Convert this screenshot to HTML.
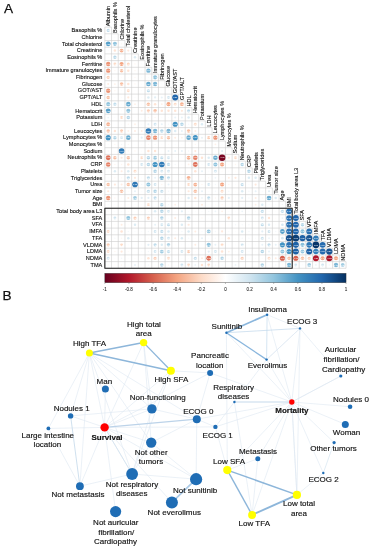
<!DOCTYPE html>
<html lang="en"><head><meta charset="utf-8"><title>Figure</title>
<style>html,body{margin:0;padding:0;background:#fff}svg{display:block}</style></head>
<body>
<svg width="373" height="550" viewBox="0 0 373 550" font-family="'Liberation Sans', sans-serif">
<defs><linearGradient id="cb" x1="0" y1="0" x2="1" y2="0">
<stop offset="0%" stop-color="#67001F"/>
<stop offset="10%" stop-color="#B2182B"/>
<stop offset="20%" stop-color="#D6604D"/>
<stop offset="30%" stop-color="#F4A582"/>
<stop offset="40%" stop-color="#FDDBC7"/>
<stop offset="50%" stop-color="#FFFFFF"/>
<stop offset="60%" stop-color="#D1E5F0"/>
<stop offset="70%" stop-color="#92C5DE"/>
<stop offset="80%" stop-color="#4393C3"/>
<stop offset="90%" stop-color="#2166AC"/>
<stop offset="100%" stop-color="#053061"/>
</linearGradient></defs>
<rect width="373" height="550" fill="#fff"/>
<text x="3.9" y="12.6" font-size="13.6" fill="#111" stroke="#111" stroke-width="0.25">A</text>
<text x="2.5" y="300.3" font-size="13.6" fill="#111" stroke="#111" stroke-width="0.25">B</text>
<path d="M104.85 27.10H111.55M104.85 33.80H118.25M104.85 40.50H124.95M104.85 47.20H131.65M104.85 53.90H138.35M104.85 60.60H145.05M104.85 67.30H151.75M104.85 74.00H158.45M104.85 80.70H165.15M104.85 87.40H171.85M104.85 94.10H178.55M104.85 100.80H185.25M104.85 107.50H191.95M104.85 114.20H198.65M104.85 120.90H205.35M104.85 127.60H212.05M104.85 134.30H218.75M104.85 141.00H225.45M104.85 147.70H232.15M104.85 154.40H238.85M104.85 161.10H245.55M104.85 167.80H252.25M104.85 174.50H258.95M104.85 181.20H265.65M104.85 187.90H272.35M104.85 194.60H279.05M104.85 201.30H285.75M104.85 208.00H292.45M104.85 214.70H299.15M104.85 221.40H305.85M104.85 228.10H312.55M104.85 234.80H319.25M104.85 241.50H325.95M104.85 248.20H332.65M104.85 254.90H339.35M104.85 261.60H346.05M104.85 268.30H346.05M104.85 27.10V268.30M111.55 27.10V268.30M118.25 33.80V268.30M124.95 40.50V268.30M131.65 47.20V268.30M138.35 53.90V268.30M145.05 60.60V268.30M151.75 67.30V268.30M158.45 74.00V268.30M165.15 80.70V268.30M171.85 87.40V268.30M178.55 94.10V268.30M185.25 100.80V268.30M191.95 107.50V268.30M198.65 114.20V268.30M205.35 120.90V268.30M212.05 127.60V268.30M218.75 134.30V268.30M225.45 141.00V268.30M232.15 147.70V268.30M238.85 154.40V268.30M245.55 161.10V268.30M252.25 167.80V268.30M258.95 174.50V268.30M265.65 181.20V268.30M272.35 187.90V268.30M279.05 194.60V268.30M285.75 201.30V268.30M292.45 208.00V268.30M299.15 214.70V268.30M305.85 221.40V268.30M312.55 228.10V268.30M319.25 234.80V268.30M325.95 241.50V268.30M332.65 248.20V268.30M339.35 254.90V268.30M346.05 261.60V268.30" stroke="#cccccc" stroke-width="0.60" fill="none"/>
<circle cx="108.20" cy="30.45" r="1.60" fill="#c1ddec"/>
<circle cx="108.20" cy="37.15" r="0.59" fill="#f8fbfd"/>
<circle cx="114.90" cy="37.15" r="0.59" fill="#f8fbfd"/>
<circle cx="108.20" cy="43.85" r="2.43" fill="#57a0ca"/>
<circle cx="114.90" cy="43.85" r="2.05" fill="#92c5de"/>
<circle cx="121.60" cy="43.85" r="0.71" fill="#fef6f1"/>
<circle cx="108.20" cy="50.55" r="0.59" fill="#fafcfe"/>
<circle cx="114.90" cy="50.55" r="1.23" fill="#fee4d5"/>
<circle cx="121.60" cy="50.55" r="1.91" fill="#f6b293"/>
<circle cx="128.30" cy="50.55" r="1.10" fill="#fee9dd"/>
<circle cx="108.20" cy="57.25" r="0.59" fill="#fafcfe"/>
<circle cx="114.90" cy="57.25" r="1.70" fill="#b8d8e9"/>
<circle cx="121.60" cy="57.25" r="0.59" fill="#fafcfe"/>
<circle cx="128.30" cy="57.25" r="0.59" fill="#fffbf9"/>
<circle cx="135.00" cy="57.25" r="1.23" fill="#dcecf4"/>
<circle cx="108.20" cy="63.95" r="2.18" fill="#ec9475"/>
<circle cx="114.90" cy="63.95" r="1.43" fill="#fddbc7"/>
<circle cx="121.60" cy="63.95" r="2.05" fill="#f4a582"/>
<circle cx="128.30" cy="63.95" r="1.50" fill="#fcd6c0"/>
<circle cx="135.00" cy="63.95" r="0.71" fill="#fef6f1"/>
<circle cx="141.70" cy="63.95" r="0.59" fill="#fafcfe"/>
<circle cx="108.20" cy="70.65" r="2.18" fill="#ec9475"/>
<circle cx="114.90" cy="70.65" r="0.71" fill="#fef6f1"/>
<circle cx="121.60" cy="70.65" r="1.76" fill="#f8c0a4"/>
<circle cx="128.30" cy="70.65" r="1.23" fill="#fee4d5"/>
<circle cx="135.00" cy="70.65" r="0.71" fill="#fef6f1"/>
<circle cx="141.70" cy="70.65" r="0.59" fill="#fafcfe"/>
<circle cx="148.40" cy="70.65" r="2.18" fill="#7eb8d7"/>
<circle cx="108.20" cy="77.35" r="1.60" fill="#fbceb6"/>
<circle cx="114.90" cy="77.35" r="0.59" fill="#fffaf7"/>
<circle cx="121.60" cy="77.35" r="0.59" fill="#fffbf9"/>
<circle cx="128.30" cy="77.35" r="0.59" fill="#fafcfe"/>
<circle cx="135.00" cy="77.35" r="0.71" fill="#fef6f1"/>
<circle cx="141.70" cy="77.35" r="0.59" fill="#fafcfe"/>
<circle cx="148.40" cy="77.35" r="0.59" fill="#f8fbfd"/>
<circle cx="155.10" cy="77.35" r="2.05" fill="#92c5de"/>
<circle cx="108.20" cy="84.05" r="1.00" fill="#feede3"/>
<circle cx="114.90" cy="84.05" r="0.90" fill="#fef1e9"/>
<circle cx="121.60" cy="84.05" r="1.76" fill="#f8c0a4"/>
<circle cx="128.30" cy="84.05" r="1.23" fill="#fee4d5"/>
<circle cx="135.00" cy="84.05" r="0.71" fill="#fef6f1"/>
<circle cx="141.70" cy="84.05" r="0.59" fill="#fafcfe"/>
<circle cx="148.40" cy="84.05" r="2.31" fill="#6aacd0"/>
<circle cx="155.10" cy="84.05" r="2.18" fill="#7eb8d7"/>
<circle cx="161.80" cy="84.05" r="0.59" fill="#fafcfe"/>
<circle cx="108.20" cy="90.75" r="2.18" fill="#ec9475"/>
<circle cx="114.90" cy="90.75" r="0.71" fill="#fef6f1"/>
<circle cx="121.60" cy="90.75" r="0.59" fill="#fafcfe"/>
<circle cx="128.30" cy="90.75" r="1.43" fill="#fddbc7"/>
<circle cx="135.00" cy="90.75" r="0.59" fill="#fafcfe"/>
<circle cx="141.70" cy="90.75" r="0.59" fill="#fafcfe"/>
<circle cx="148.40" cy="90.75" r="1.60" fill="#c1ddec"/>
<circle cx="155.10" cy="90.75" r="0.71" fill="#f4f8fb"/>
<circle cx="161.80" cy="90.75" r="0.59" fill="#fafcfe"/>
<circle cx="168.50" cy="90.75" r="0.59" fill="#fafcfe"/>
<circle cx="108.20" cy="97.45" r="1.76" fill="#f8c0a4"/>
<circle cx="114.90" cy="97.45" r="0.59" fill="#fafcfe"/>
<circle cx="121.60" cy="97.45" r="0.59" fill="#fafcfe"/>
<circle cx="128.30" cy="97.45" r="1.10" fill="#fee9dd"/>
<circle cx="135.00" cy="97.45" r="0.59" fill="#fafcfe"/>
<circle cx="141.70" cy="97.45" r="0.59" fill="#fffbf9"/>
<circle cx="148.40" cy="97.45" r="1.23" fill="#dcecf4"/>
<circle cx="155.10" cy="97.45" r="1.10" fill="#e3eff6"/>
<circle cx="161.80" cy="97.45" r="1.00" fill="#e8f2f8"/>
<circle cx="168.50" cy="97.45" r="1.43" fill="#d1e5f0"/>
<circle cx="175.20" cy="97.45" r="2.98" fill="#2166ac"/>
<circle cx="108.20" cy="104.15" r="2.05" fill="#92c5de"/>
<circle cx="114.90" cy="104.15" r="1.60" fill="#c1ddec"/>
<circle cx="121.60" cy="104.15" r="0.59" fill="#fafcfe"/>
<circle cx="128.30" cy="104.15" r="2.31" fill="#6aacd0"/>
<circle cx="135.00" cy="104.15" r="0.90" fill="#fef1e9"/>
<circle cx="141.70" cy="104.15" r="0.59" fill="#fafcfe"/>
<circle cx="148.40" cy="104.15" r="1.76" fill="#f8c0a4"/>
<circle cx="155.10" cy="104.15" r="1.23" fill="#fee4d5"/>
<circle cx="161.80" cy="104.15" r="0.90" fill="#fef1e9"/>
<circle cx="168.50" cy="104.15" r="2.05" fill="#f4a582"/>
<circle cx="175.20" cy="104.15" r="1.43" fill="#fddbc7"/>
<circle cx="181.90" cy="104.15" r="1.91" fill="#f6b293"/>
<circle cx="108.20" cy="110.85" r="2.43" fill="#57a0ca"/>
<circle cx="114.90" cy="110.85" r="0.71" fill="#f4f8fb"/>
<circle cx="121.60" cy="110.85" r="0.59" fill="#fafcfe"/>
<circle cx="128.30" cy="110.85" r="2.05" fill="#92c5de"/>
<circle cx="135.00" cy="110.85" r="0.59" fill="#fafcfe"/>
<circle cx="141.70" cy="110.85" r="1.00" fill="#feede3"/>
<circle cx="148.40" cy="110.85" r="1.60" fill="#fbceb6"/>
<circle cx="155.10" cy="110.85" r="1.76" fill="#f8c0a4"/>
<circle cx="161.80" cy="110.85" r="1.23" fill="#fee4d5"/>
<circle cx="168.50" cy="110.85" r="1.23" fill="#fee4d5"/>
<circle cx="175.20" cy="110.85" r="1.23" fill="#fee4d5"/>
<circle cx="181.90" cy="110.85" r="1.10" fill="#fee9dd"/>
<circle cx="188.60" cy="110.85" r="1.60" fill="#c1ddec"/>
<circle cx="108.20" cy="117.55" r="0.90" fill="#edf5f9"/>
<circle cx="114.90" cy="117.55" r="0.59" fill="#fafcfe"/>
<circle cx="121.60" cy="117.55" r="1.43" fill="#fddbc7"/>
<circle cx="128.30" cy="117.55" r="1.76" fill="#b2d5e7"/>
<circle cx="135.00" cy="117.55" r="0.59" fill="#fafcfe"/>
<circle cx="141.70" cy="117.55" r="0.59" fill="#fafcfe"/>
<circle cx="148.40" cy="117.55" r="0.71" fill="#fef6f1"/>
<circle cx="155.10" cy="117.55" r="0.71" fill="#fef6f1"/>
<circle cx="161.80" cy="117.55" r="0.59" fill="#fafcfe"/>
<circle cx="168.50" cy="117.55" r="0.59" fill="#fafcfe"/>
<circle cx="175.20" cy="117.55" r="1.00" fill="#e8f2f8"/>
<circle cx="181.90" cy="117.55" r="1.00" fill="#e8f2f8"/>
<circle cx="188.60" cy="117.55" r="1.23" fill="#dcecf4"/>
<circle cx="195.30" cy="117.55" r="0.59" fill="#f8fbfd"/>
<circle cx="108.20" cy="124.25" r="1.91" fill="#f6b293"/>
<circle cx="114.90" cy="124.25" r="0.59" fill="#fafcfe"/>
<circle cx="121.60" cy="124.25" r="0.59" fill="#fafcfe"/>
<circle cx="128.30" cy="124.25" r="0.71" fill="#fef6f1"/>
<circle cx="135.00" cy="124.25" r="0.90" fill="#fef1e9"/>
<circle cx="141.70" cy="124.25" r="0.59" fill="#fafcfe"/>
<circle cx="148.40" cy="124.25" r="1.00" fill="#e8f2f8"/>
<circle cx="155.10" cy="124.25" r="1.43" fill="#d1e5f0"/>
<circle cx="161.80" cy="124.25" r="1.00" fill="#e8f2f8"/>
<circle cx="168.50" cy="124.25" r="0.71" fill="#f4f8fb"/>
<circle cx="175.20" cy="124.25" r="2.55" fill="#4393c3"/>
<circle cx="181.90" cy="124.25" r="1.76" fill="#b2d5e7"/>
<circle cx="188.60" cy="124.25" r="0.71" fill="#f4f8fb"/>
<circle cx="195.30" cy="124.25" r="1.43" fill="#fddbc7"/>
<circle cx="202.00" cy="124.25" r="1.23" fill="#dcecf4"/>
<circle cx="108.20" cy="130.95" r="1.76" fill="#f8c0a4"/>
<circle cx="114.90" cy="130.95" r="1.23" fill="#fee4d5"/>
<circle cx="121.60" cy="130.95" r="1.60" fill="#fbceb6"/>
<circle cx="128.30" cy="130.95" r="0.90" fill="#fef1e9"/>
<circle cx="135.00" cy="130.95" r="1.00" fill="#feede3"/>
<circle cx="141.70" cy="130.95" r="1.00" fill="#feede3"/>
<circle cx="148.40" cy="130.95" r="2.77" fill="#327cb8"/>
<circle cx="155.10" cy="130.95" r="2.18" fill="#7eb8d7"/>
<circle cx="161.80" cy="130.95" r="1.76" fill="#b2d5e7"/>
<circle cx="168.50" cy="130.95" r="2.18" fill="#7eb8d7"/>
<circle cx="175.20" cy="130.95" r="1.23" fill="#dcecf4"/>
<circle cx="181.90" cy="130.95" r="1.00" fill="#e8f2f8"/>
<circle cx="188.60" cy="130.95" r="1.76" fill="#f8c0a4"/>
<circle cx="195.30" cy="130.95" r="1.00" fill="#feede3"/>
<circle cx="202.00" cy="130.95" r="0.59" fill="#fafcfe"/>
<circle cx="208.70" cy="130.95" r="0.71" fill="#f4f8fb"/>
<circle cx="108.20" cy="137.65" r="2.55" fill="#4393c3"/>
<circle cx="114.90" cy="137.65" r="1.76" fill="#b2d5e7"/>
<circle cx="121.60" cy="137.65" r="1.43" fill="#d1e5f0"/>
<circle cx="128.30" cy="137.65" r="2.31" fill="#6aacd0"/>
<circle cx="135.00" cy="137.65" r="0.59" fill="#fafcfe"/>
<circle cx="141.70" cy="137.65" r="1.10" fill="#e3eff6"/>
<circle cx="148.40" cy="137.65" r="2.31" fill="#e58268"/>
<circle cx="155.10" cy="137.65" r="2.18" fill="#ec9475"/>
<circle cx="161.80" cy="137.65" r="1.43" fill="#fddbc7"/>
<circle cx="168.50" cy="137.65" r="1.76" fill="#f8c0a4"/>
<circle cx="175.20" cy="137.65" r="1.00" fill="#feede3"/>
<circle cx="181.90" cy="137.65" r="0.90" fill="#fef1e9"/>
<circle cx="188.60" cy="137.65" r="2.31" fill="#6aacd0"/>
<circle cx="195.30" cy="137.65" r="2.55" fill="#4393c3"/>
<circle cx="202.00" cy="137.65" r="1.00" fill="#e8f2f8"/>
<circle cx="208.70" cy="137.65" r="1.60" fill="#fbceb6"/>
<circle cx="215.40" cy="137.65" r="2.18" fill="#ec9475"/>
<circle cx="108.20" cy="144.35" r="0.59" fill="#fafcfe"/>
<circle cx="114.90" cy="144.35" r="0.71" fill="#fef6f1"/>
<circle cx="121.60" cy="144.35" r="0.71" fill="#f4f8fb"/>
<circle cx="128.30" cy="144.35" r="0.71" fill="#fef6f1"/>
<circle cx="135.00" cy="144.35" r="0.59" fill="#fafcfe"/>
<circle cx="141.70" cy="144.35" r="0.59" fill="#fafcfe"/>
<circle cx="148.40" cy="144.35" r="0.71" fill="#fef6f1"/>
<circle cx="155.10" cy="144.35" r="0.71" fill="#f4f8fb"/>
<circle cx="161.80" cy="144.35" r="0.59" fill="#fafcfe"/>
<circle cx="168.50" cy="144.35" r="0.59" fill="#fffaf7"/>
<circle cx="175.20" cy="144.35" r="0.59" fill="#f8fbfd"/>
<circle cx="181.90" cy="144.35" r="0.59" fill="#fafcfe"/>
<circle cx="188.60" cy="144.35" r="0.59" fill="#fffaf7"/>
<circle cx="195.30" cy="144.35" r="0.71" fill="#fef6f1"/>
<circle cx="202.00" cy="144.35" r="0.59" fill="#fffaf7"/>
<circle cx="208.70" cy="144.35" r="0.59" fill="#fafcfe"/>
<circle cx="215.40" cy="144.35" r="0.90" fill="#fef1e9"/>
<circle cx="222.10" cy="144.35" r="0.59" fill="#fafcfe"/>
<circle cx="108.20" cy="151.05" r="0.71" fill="#f4f8fb"/>
<circle cx="114.90" cy="151.05" r="0.59" fill="#fafcfe"/>
<circle cx="121.60" cy="151.05" r="2.77" fill="#327cb8"/>
<circle cx="128.30" cy="151.05" r="0.71" fill="#fef6f1"/>
<circle cx="135.00" cy="151.05" r="0.71" fill="#fef6f1"/>
<circle cx="141.70" cy="151.05" r="0.59" fill="#fafcfe"/>
<circle cx="148.40" cy="151.05" r="1.23" fill="#fee4d5"/>
<circle cx="155.10" cy="151.05" r="1.23" fill="#fee4d5"/>
<circle cx="161.80" cy="151.05" r="0.59" fill="#fafcfe"/>
<circle cx="168.50" cy="151.05" r="1.00" fill="#e8f2f8"/>
<circle cx="175.20" cy="151.05" r="1.00" fill="#e8f2f8"/>
<circle cx="181.90" cy="151.05" r="1.00" fill="#e8f2f8"/>
<circle cx="188.60" cy="151.05" r="0.71" fill="#f4f8fb"/>
<circle cx="195.30" cy="151.05" r="1.10" fill="#fee9dd"/>
<circle cx="202.00" cy="151.05" r="0.71" fill="#f4f8fb"/>
<circle cx="208.70" cy="151.05" r="0.59" fill="#fffaf7"/>
<circle cx="215.40" cy="151.05" r="0.59" fill="#fffaf7"/>
<circle cx="222.10" cy="151.05" r="1.10" fill="#e3eff6"/>
<circle cx="228.80" cy="151.05" r="0.59" fill="#fafcfe"/>
<circle cx="108.20" cy="157.75" r="2.43" fill="#de715a"/>
<circle cx="114.90" cy="157.75" r="1.76" fill="#f8c0a4"/>
<circle cx="121.60" cy="157.75" r="1.10" fill="#fee9dd"/>
<circle cx="128.30" cy="157.75" r="1.76" fill="#f8c0a4"/>
<circle cx="135.00" cy="157.75" r="0.59" fill="#fafcfe"/>
<circle cx="141.70" cy="157.75" r="1.43" fill="#fddbc7"/>
<circle cx="148.40" cy="157.75" r="1.76" fill="#b2d5e7"/>
<circle cx="155.10" cy="157.75" r="1.91" fill="#a2cde2"/>
<circle cx="161.80" cy="157.75" r="1.60" fill="#c1ddec"/>
<circle cx="168.50" cy="157.75" r="1.43" fill="#d1e5f0"/>
<circle cx="175.20" cy="157.75" r="0.59" fill="#f8fbfd"/>
<circle cx="181.90" cy="157.75" r="0.59" fill="#fafcfe"/>
<circle cx="188.60" cy="157.75" r="1.91" fill="#f6b293"/>
<circle cx="195.30" cy="157.75" r="2.31" fill="#e58268"/>
<circle cx="202.00" cy="157.75" r="1.23" fill="#fee4d5"/>
<circle cx="208.70" cy="157.75" r="1.23" fill="#dcecf4"/>
<circle cx="215.40" cy="157.75" r="2.31" fill="#6aacd0"/>
<circle cx="222.10" cy="157.75" r="3.29" fill="#7a0622"/>
<circle cx="228.80" cy="157.75" r="1.10" fill="#fee9dd"/>
<circle cx="235.50" cy="157.75" r="1.43" fill="#fddbc7"/>
<circle cx="108.20" cy="164.45" r="2.31" fill="#e58268"/>
<circle cx="114.90" cy="164.45" r="0.71" fill="#fef6f1"/>
<circle cx="121.60" cy="164.45" r="0.71" fill="#fef6f1"/>
<circle cx="128.30" cy="164.45" r="1.23" fill="#fee4d5"/>
<circle cx="135.00" cy="164.45" r="0.59" fill="#fafcfe"/>
<circle cx="141.70" cy="164.45" r="1.43" fill="#d1e5f0"/>
<circle cx="148.40" cy="164.45" r="1.76" fill="#b2d5e7"/>
<circle cx="155.10" cy="164.45" r="2.55" fill="#4393c3"/>
<circle cx="161.80" cy="164.45" r="2.77" fill="#327cb8"/>
<circle cx="168.50" cy="164.45" r="1.60" fill="#c1ddec"/>
<circle cx="175.20" cy="164.45" r="0.71" fill="#f4f8fb"/>
<circle cx="181.90" cy="164.45" r="0.59" fill="#fafcfe"/>
<circle cx="188.60" cy="164.45" r="0.90" fill="#fef1e9"/>
<circle cx="195.30" cy="164.45" r="2.43" fill="#de715a"/>
<circle cx="202.00" cy="164.45" r="0.59" fill="#f8fbfd"/>
<circle cx="208.70" cy="164.45" r="1.43" fill="#d1e5f0"/>
<circle cx="215.40" cy="164.45" r="2.05" fill="#92c5de"/>
<circle cx="222.10" cy="164.45" r="2.05" fill="#f4a582"/>
<circle cx="228.80" cy="164.45" r="0.59" fill="#fffbf9"/>
<circle cx="235.50" cy="164.45" r="0.71" fill="#fef6f1"/>
<circle cx="242.20" cy="164.45" r="1.76" fill="#b2d5e7"/>
<circle cx="108.20" cy="171.15" r="0.59" fill="#fafcfe"/>
<circle cx="114.90" cy="171.15" r="1.23" fill="#dcecf4"/>
<circle cx="121.60" cy="171.15" r="1.00" fill="#feede3"/>
<circle cx="128.30" cy="171.15" r="1.23" fill="#dcecf4"/>
<circle cx="135.00" cy="171.15" r="1.43" fill="#fddbc7"/>
<circle cx="141.70" cy="171.15" r="0.59" fill="#fafcfe"/>
<circle cx="148.40" cy="171.15" r="0.71" fill="#f4f8fb"/>
<circle cx="155.10" cy="171.15" r="1.76" fill="#b2d5e7"/>
<circle cx="161.80" cy="171.15" r="1.43" fill="#d1e5f0"/>
<circle cx="168.50" cy="171.15" r="1.43" fill="#d1e5f0"/>
<circle cx="175.20" cy="171.15" r="0.59" fill="#fafcfe"/>
<circle cx="181.90" cy="171.15" r="0.59" fill="#fafcfe"/>
<circle cx="188.60" cy="171.15" r="0.59" fill="#fffbf9"/>
<circle cx="195.30" cy="171.15" r="1.23" fill="#fee4d5"/>
<circle cx="202.00" cy="171.15" r="1.00" fill="#e8f2f8"/>
<circle cx="208.70" cy="171.15" r="0.59" fill="#f8fbfd"/>
<circle cx="215.40" cy="171.15" r="1.43" fill="#d1e5f0"/>
<circle cx="222.10" cy="171.15" r="0.59" fill="#fffaf7"/>
<circle cx="228.80" cy="171.15" r="0.59" fill="#fafcfe"/>
<circle cx="235.50" cy="171.15" r="0.59" fill="#fffbf9"/>
<circle cx="242.20" cy="171.15" r="0.59" fill="#f8fbfd"/>
<circle cx="248.90" cy="171.15" r="1.76" fill="#b2d5e7"/>
<circle cx="108.20" cy="177.85" r="0.59" fill="#fafcfe"/>
<circle cx="114.90" cy="177.85" r="0.71" fill="#fef6f1"/>
<circle cx="121.60" cy="177.85" r="0.71" fill="#fef6f1"/>
<circle cx="128.30" cy="177.85" r="1.60" fill="#c1ddec"/>
<circle cx="135.00" cy="177.85" r="1.10" fill="#fee9dd"/>
<circle cx="141.70" cy="177.85" r="0.59" fill="#fafcfe"/>
<circle cx="148.40" cy="177.85" r="1.60" fill="#c1ddec"/>
<circle cx="155.10" cy="177.85" r="1.00" fill="#e8f2f8"/>
<circle cx="161.80" cy="177.85" r="2.18" fill="#7eb8d7"/>
<circle cx="168.50" cy="177.85" r="1.60" fill="#c1ddec"/>
<circle cx="175.20" cy="177.85" r="0.59" fill="#fafcfe"/>
<circle cx="181.90" cy="177.85" r="0.71" fill="#f4f8fb"/>
<circle cx="188.60" cy="177.85" r="1.91" fill="#f6b293"/>
<circle cx="195.30" cy="177.85" r="0.59" fill="#fffbf9"/>
<circle cx="202.00" cy="177.85" r="0.59" fill="#fafcfe"/>
<circle cx="208.70" cy="177.85" r="0.71" fill="#fef6f1"/>
<circle cx="215.40" cy="177.85" r="0.90" fill="#edf5f9"/>
<circle cx="222.10" cy="177.85" r="0.59" fill="#f8fbfd"/>
<circle cx="228.80" cy="177.85" r="1.00" fill="#feede3"/>
<circle cx="235.50" cy="177.85" r="1.10" fill="#fee9dd"/>
<circle cx="242.20" cy="177.85" r="0.59" fill="#f8fbfd"/>
<circle cx="248.90" cy="177.85" r="1.23" fill="#dcecf4"/>
<circle cx="255.60" cy="177.85" r="1.23" fill="#dcecf4"/>
<circle cx="108.20" cy="184.55" r="1.76" fill="#f8c0a4"/>
<circle cx="114.90" cy="184.55" r="1.10" fill="#fee9dd"/>
<circle cx="121.60" cy="184.55" r="1.00" fill="#feede3"/>
<circle cx="128.30" cy="184.55" r="1.76" fill="#f8c0a4"/>
<circle cx="135.00" cy="184.55" r="2.82" fill="#2f78b5"/>
<circle cx="141.70" cy="184.55" r="0.71" fill="#f4f8fb"/>
<circle cx="148.40" cy="184.55" r="2.05" fill="#92c5de"/>
<circle cx="155.10" cy="184.55" r="1.43" fill="#d1e5f0"/>
<circle cx="161.80" cy="184.55" r="0.71" fill="#fef6f1"/>
<circle cx="168.50" cy="184.55" r="1.00" fill="#e8f2f8"/>
<circle cx="175.20" cy="184.55" r="0.59" fill="#f8fbfd"/>
<circle cx="181.90" cy="184.55" r="0.59" fill="#fafcfe"/>
<circle cx="188.60" cy="184.55" r="1.43" fill="#fddbc7"/>
<circle cx="195.30" cy="184.55" r="1.91" fill="#f6b293"/>
<circle cx="202.00" cy="184.55" r="0.71" fill="#fef6f1"/>
<circle cx="208.70" cy="184.55" r="1.43" fill="#d1e5f0"/>
<circle cx="215.40" cy="184.55" r="0.71" fill="#f4f8fb"/>
<circle cx="222.10" cy="184.55" r="2.05" fill="#f4a582"/>
<circle cx="228.80" cy="184.55" r="0.71" fill="#fef6f1"/>
<circle cx="235.50" cy="184.55" r="0.59" fill="#fafcfe"/>
<circle cx="242.20" cy="184.55" r="1.60" fill="#c1ddec"/>
<circle cx="248.90" cy="184.55" r="0.59" fill="#f8fbfd"/>
<circle cx="255.60" cy="184.55" r="1.10" fill="#fee9dd"/>
<circle cx="262.30" cy="184.55" r="0.59" fill="#f8fbfd"/>
<circle cx="108.20" cy="191.25" r="1.10" fill="#fee9dd"/>
<circle cx="114.90" cy="191.25" r="0.59" fill="#fafcfe"/>
<circle cx="121.60" cy="191.25" r="1.76" fill="#f8c0a4"/>
<circle cx="128.30" cy="191.25" r="0.59" fill="#fffaf7"/>
<circle cx="135.00" cy="191.25" r="1.00" fill="#e8f2f8"/>
<circle cx="141.70" cy="191.25" r="0.59" fill="#fafcfe"/>
<circle cx="148.40" cy="191.25" r="1.60" fill="#c1ddec"/>
<circle cx="155.10" cy="191.25" r="1.76" fill="#b2d5e7"/>
<circle cx="161.80" cy="191.25" r="1.60" fill="#c1ddec"/>
<circle cx="168.50" cy="191.25" r="0.71" fill="#f4f8fb"/>
<circle cx="175.20" cy="191.25" r="0.59" fill="#fafcfe"/>
<circle cx="181.90" cy="191.25" r="0.59" fill="#fffbf9"/>
<circle cx="188.60" cy="191.25" r="1.10" fill="#fee9dd"/>
<circle cx="195.30" cy="191.25" r="1.76" fill="#f8c0a4"/>
<circle cx="202.00" cy="191.25" r="1.00" fill="#e8f2f8"/>
<circle cx="208.70" cy="191.25" r="0.59" fill="#fafcfe"/>
<circle cx="215.40" cy="191.25" r="0.71" fill="#f4f8fb"/>
<circle cx="222.10" cy="191.25" r="1.43" fill="#fddbc7"/>
<circle cx="228.80" cy="191.25" r="0.71" fill="#f4f8fb"/>
<circle cx="235.50" cy="191.25" r="0.59" fill="#fafcfe"/>
<circle cx="242.20" cy="191.25" r="1.23" fill="#dcecf4"/>
<circle cx="248.90" cy="191.25" r="0.71" fill="#f4f8fb"/>
<circle cx="255.60" cy="191.25" r="1.00" fill="#e8f2f8"/>
<circle cx="262.30" cy="191.25" r="0.59" fill="#f8fbfd"/>
<circle cx="269.00" cy="191.25" r="1.10" fill="#e3eff6"/>
<circle cx="108.20" cy="197.95" r="2.18" fill="#ec9475"/>
<circle cx="114.90" cy="197.95" r="0.71" fill="#fef6f1"/>
<circle cx="121.60" cy="197.95" r="0.59" fill="#fffaf7"/>
<circle cx="128.30" cy="197.95" r="1.00" fill="#feede3"/>
<circle cx="135.00" cy="197.95" r="1.91" fill="#a2cde2"/>
<circle cx="141.70" cy="197.95" r="1.10" fill="#e3eff6"/>
<circle cx="148.40" cy="197.95" r="1.10" fill="#e3eff6"/>
<circle cx="155.10" cy="197.95" r="1.60" fill="#c1ddec"/>
<circle cx="161.80" cy="197.95" r="0.71" fill="#f4f8fb"/>
<circle cx="168.50" cy="197.95" r="0.71" fill="#f4f8fb"/>
<circle cx="175.20" cy="197.95" r="0.59" fill="#fffaf7"/>
<circle cx="181.90" cy="197.95" r="0.71" fill="#fef6f1"/>
<circle cx="188.60" cy="197.95" r="1.23" fill="#dcecf4"/>
<circle cx="195.30" cy="197.95" r="1.23" fill="#fee4d5"/>
<circle cx="202.00" cy="197.95" r="0.90" fill="#edf5f9"/>
<circle cx="208.70" cy="197.95" r="1.60" fill="#c1ddec"/>
<circle cx="215.40" cy="197.95" r="0.71" fill="#fef6f1"/>
<circle cx="222.10" cy="197.95" r="1.60" fill="#fbceb6"/>
<circle cx="228.80" cy="197.95" r="1.10" fill="#e3eff6"/>
<circle cx="235.50" cy="197.95" r="0.59" fill="#fafcfe"/>
<circle cx="242.20" cy="197.95" r="1.10" fill="#e3eff6"/>
<circle cx="248.90" cy="197.95" r="0.71" fill="#f4f8fb"/>
<circle cx="255.60" cy="197.95" r="1.00" fill="#feede3"/>
<circle cx="262.30" cy="197.95" r="0.71" fill="#fef6f1"/>
<circle cx="269.00" cy="197.95" r="2.31" fill="#6aacd0"/>
<circle cx="275.70" cy="197.95" r="1.23" fill="#dcecf4"/>
<circle cx="108.20" cy="204.65" r="0.59" fill="#f8fbfd"/>
<circle cx="114.90" cy="204.65" r="0.59" fill="#fafcfe"/>
<circle cx="121.60" cy="204.65" r="0.59" fill="#fffbf9"/>
<circle cx="128.30" cy="204.65" r="0.59" fill="#fffaf7"/>
<circle cx="135.00" cy="204.65" r="0.59" fill="#f8fbfd"/>
<circle cx="141.70" cy="204.65" r="0.59" fill="#fafcfe"/>
<circle cx="148.40" cy="204.65" r="1.43" fill="#fddbc7"/>
<circle cx="155.10" cy="204.65" r="0.59" fill="#fafcfe"/>
<circle cx="161.80" cy="204.65" r="1.76" fill="#b2d5e7"/>
<circle cx="168.50" cy="204.65" r="0.71" fill="#f4f8fb"/>
<circle cx="175.20" cy="204.65" r="0.90" fill="#fef1e9"/>
<circle cx="181.90" cy="204.65" r="0.59" fill="#fafcfe"/>
<circle cx="188.60" cy="204.65" r="0.59" fill="#f8fbfd"/>
<circle cx="195.30" cy="204.65" r="0.59" fill="#fffaf7"/>
<circle cx="202.00" cy="204.65" r="1.00" fill="#feede3"/>
<circle cx="208.70" cy="204.65" r="0.59" fill="#fafcfe"/>
<circle cx="215.40" cy="204.65" r="0.59" fill="#fffaf7"/>
<circle cx="222.10" cy="204.65" r="0.71" fill="#fef6f1"/>
<circle cx="228.80" cy="204.65" r="0.59" fill="#fafcfe"/>
<circle cx="235.50" cy="204.65" r="0.59" fill="#fffbf9"/>
<circle cx="242.20" cy="204.65" r="0.59" fill="#f8fbfd"/>
<circle cx="248.90" cy="204.65" r="0.59" fill="#fafcfe"/>
<circle cx="255.60" cy="204.65" r="0.90" fill="#fef1e9"/>
<circle cx="262.30" cy="204.65" r="1.23" fill="#dcecf4"/>
<circle cx="269.00" cy="204.65" r="0.59" fill="#f8fbfd"/>
<circle cx="275.70" cy="204.65" r="0.59" fill="#f8fbfd"/>
<circle cx="282.40" cy="204.65" r="0.71" fill="#f4f8fb"/>
<circle cx="108.20" cy="211.35" r="0.59" fill="#fffaf7"/>
<circle cx="114.90" cy="211.35" r="0.59" fill="#f8fbfd"/>
<circle cx="121.60" cy="211.35" r="0.59" fill="#fafcfe"/>
<circle cx="128.30" cy="211.35" r="0.59" fill="#fffaf7"/>
<circle cx="135.00" cy="211.35" r="0.59" fill="#fafcfe"/>
<circle cx="141.70" cy="211.35" r="0.59" fill="#fffbf9"/>
<circle cx="148.40" cy="211.35" r="0.59" fill="#f8fbfd"/>
<circle cx="155.10" cy="211.35" r="1.23" fill="#dcecf4"/>
<circle cx="161.80" cy="211.35" r="1.76" fill="#b2d5e7"/>
<circle cx="168.50" cy="211.35" r="1.43" fill="#d1e5f0"/>
<circle cx="175.20" cy="211.35" r="0.59" fill="#fafcfe"/>
<circle cx="181.90" cy="211.35" r="1.10" fill="#e3eff6"/>
<circle cx="188.60" cy="211.35" r="0.59" fill="#fafcfe"/>
<circle cx="195.30" cy="211.35" r="0.59" fill="#f8fbfd"/>
<circle cx="202.00" cy="211.35" r="0.59" fill="#f8fbfd"/>
<circle cx="208.70" cy="211.35" r="0.71" fill="#f4f8fb"/>
<circle cx="215.40" cy="211.35" r="0.90" fill="#edf5f9"/>
<circle cx="222.10" cy="211.35" r="0.90" fill="#fef1e9"/>
<circle cx="228.80" cy="211.35" r="0.59" fill="#fafcfe"/>
<circle cx="235.50" cy="211.35" r="0.59" fill="#fafcfe"/>
<circle cx="242.20" cy="211.35" r="0.90" fill="#edf5f9"/>
<circle cx="248.90" cy="211.35" r="0.59" fill="#f8fbfd"/>
<circle cx="255.60" cy="211.35" r="0.59" fill="#f8fbfd"/>
<circle cx="262.30" cy="211.35" r="1.60" fill="#c1ddec"/>
<circle cx="269.00" cy="211.35" r="0.59" fill="#f8fbfd"/>
<circle cx="275.70" cy="211.35" r="0.59" fill="#fafcfe"/>
<circle cx="282.40" cy="211.35" r="1.60" fill="#c1ddec"/>
<circle cx="289.10" cy="211.35" r="2.88" fill="#2a71b2"/>
<circle cx="108.20" cy="218.05" r="0.71" fill="#f4f8fb"/>
<circle cx="114.90" cy="218.05" r="1.43" fill="#d1e5f0"/>
<circle cx="121.60" cy="218.05" r="0.59" fill="#fffaf7"/>
<circle cx="128.30" cy="218.05" r="2.05" fill="#92c5de"/>
<circle cx="135.00" cy="218.05" r="1.60" fill="#fbceb6"/>
<circle cx="141.70" cy="218.05" r="0.59" fill="#f8fbfd"/>
<circle cx="148.40" cy="218.05" r="1.60" fill="#fbceb6"/>
<circle cx="155.10" cy="218.05" r="0.71" fill="#fef6f1"/>
<circle cx="161.80" cy="218.05" r="1.76" fill="#b2d5e7"/>
<circle cx="168.50" cy="218.05" r="0.59" fill="#f8fbfd"/>
<circle cx="175.20" cy="218.05" r="1.00" fill="#feede3"/>
<circle cx="181.90" cy="218.05" r="0.59" fill="#fafcfe"/>
<circle cx="188.60" cy="218.05" r="1.76" fill="#b2d5e7"/>
<circle cx="195.30" cy="218.05" r="0.59" fill="#fafcfe"/>
<circle cx="202.00" cy="218.05" r="0.71" fill="#fef6f1"/>
<circle cx="208.70" cy="218.05" r="0.59" fill="#fafcfe"/>
<circle cx="215.40" cy="218.05" r="0.59" fill="#fafcfe"/>
<circle cx="222.10" cy="218.05" r="0.59" fill="#fffbf9"/>
<circle cx="228.80" cy="218.05" r="1.43" fill="#fddbc7"/>
<circle cx="235.50" cy="218.05" r="0.59" fill="#f8fbfd"/>
<circle cx="242.20" cy="218.05" r="0.59" fill="#fafcfe"/>
<circle cx="248.90" cy="218.05" r="0.59" fill="#fafcfe"/>
<circle cx="255.60" cy="218.05" r="0.59" fill="#f8fbfd"/>
<circle cx="262.30" cy="218.05" r="1.43" fill="#d1e5f0"/>
<circle cx="269.00" cy="218.05" r="1.23" fill="#fee4d5"/>
<circle cx="275.70" cy="218.05" r="0.59" fill="#fffaf7"/>
<circle cx="282.40" cy="218.05" r="0.90" fill="#edf5f9"/>
<circle cx="289.10" cy="218.05" r="2.88" fill="#2a71b2"/>
<circle cx="295.80" cy="218.05" r="2.98" fill="#2166ac"/>
<circle cx="108.20" cy="224.75" r="0.71" fill="#fef6f1"/>
<circle cx="114.90" cy="224.75" r="0.59" fill="#fffaf7"/>
<circle cx="121.60" cy="224.75" r="1.00" fill="#feede3"/>
<circle cx="128.30" cy="224.75" r="0.59" fill="#fffaf7"/>
<circle cx="135.00" cy="224.75" r="1.23" fill="#dcecf4"/>
<circle cx="141.70" cy="224.75" r="0.59" fill="#fafcfe"/>
<circle cx="148.40" cy="224.75" r="0.59" fill="#fafcfe"/>
<circle cx="155.10" cy="224.75" r="1.00" fill="#e8f2f8"/>
<circle cx="161.80" cy="224.75" r="1.43" fill="#d1e5f0"/>
<circle cx="168.50" cy="224.75" r="1.60" fill="#c1ddec"/>
<circle cx="175.20" cy="224.75" r="0.59" fill="#fffaf7"/>
<circle cx="181.90" cy="224.75" r="1.23" fill="#dcecf4"/>
<circle cx="188.60" cy="224.75" r="1.10" fill="#fee9dd"/>
<circle cx="195.30" cy="224.75" r="0.59" fill="#fafcfe"/>
<circle cx="202.00" cy="224.75" r="0.59" fill="#f8fbfd"/>
<circle cx="208.70" cy="224.75" r="0.59" fill="#f8fbfd"/>
<circle cx="215.40" cy="224.75" r="0.59" fill="#f8fbfd"/>
<circle cx="222.10" cy="224.75" r="0.59" fill="#fffaf7"/>
<circle cx="228.80" cy="224.75" r="0.59" fill="#fffaf7"/>
<circle cx="235.50" cy="224.75" r="0.71" fill="#f4f8fb"/>
<circle cx="242.20" cy="224.75" r="0.71" fill="#f4f8fb"/>
<circle cx="248.90" cy="224.75" r="0.71" fill="#f4f8fb"/>
<circle cx="255.60" cy="224.75" r="0.59" fill="#fafcfe"/>
<circle cx="262.30" cy="224.75" r="1.60" fill="#c1ddec"/>
<circle cx="269.00" cy="224.75" r="1.23" fill="#dcecf4"/>
<circle cx="275.70" cy="224.75" r="0.59" fill="#fafcfe"/>
<circle cx="282.40" cy="224.75" r="1.35" fill="#d6e8f2"/>
<circle cx="289.10" cy="224.75" r="2.88" fill="#2a71b2"/>
<circle cx="295.80" cy="224.75" r="2.98" fill="#2166ac"/>
<circle cx="302.50" cy="224.75" r="1.76" fill="#b2d5e7"/>
<circle cx="108.20" cy="231.45" r="1.43" fill="#fddbc7"/>
<circle cx="114.90" cy="231.45" r="0.59" fill="#f8fbfd"/>
<circle cx="121.60" cy="231.45" r="1.23" fill="#fee4d5"/>
<circle cx="128.30" cy="231.45" r="0.71" fill="#f4f8fb"/>
<circle cx="135.00" cy="231.45" r="0.59" fill="#f8fbfd"/>
<circle cx="141.70" cy="231.45" r="0.59" fill="#fafcfe"/>
<circle cx="148.40" cy="231.45" r="0.71" fill="#f4f8fb"/>
<circle cx="155.10" cy="231.45" r="1.43" fill="#d1e5f0"/>
<circle cx="161.80" cy="231.45" r="1.60" fill="#c1ddec"/>
<circle cx="168.50" cy="231.45" r="1.23" fill="#dcecf4"/>
<circle cx="175.20" cy="231.45" r="0.59" fill="#f8fbfd"/>
<circle cx="181.90" cy="231.45" r="0.71" fill="#f4f8fb"/>
<circle cx="188.60" cy="231.45" r="1.23" fill="#dcecf4"/>
<circle cx="195.30" cy="231.45" r="1.00" fill="#feede3"/>
<circle cx="202.00" cy="231.45" r="0.59" fill="#f8fbfd"/>
<circle cx="208.70" cy="231.45" r="1.91" fill="#a2cde2"/>
<circle cx="215.40" cy="231.45" r="0.71" fill="#f4f8fb"/>
<circle cx="222.10" cy="231.45" r="1.10" fill="#fee9dd"/>
<circle cx="228.80" cy="231.45" r="0.59" fill="#f8fbfd"/>
<circle cx="235.50" cy="231.45" r="0.59" fill="#fafcfe"/>
<circle cx="242.20" cy="231.45" r="1.23" fill="#dcecf4"/>
<circle cx="248.90" cy="231.45" r="0.71" fill="#f4f8fb"/>
<circle cx="255.60" cy="231.45" r="0.59" fill="#fafcfe"/>
<circle cx="262.30" cy="231.45" r="1.10" fill="#e3eff6"/>
<circle cx="269.00" cy="231.45" r="1.50" fill="#cbe2ee"/>
<circle cx="275.70" cy="231.45" r="0.71" fill="#f4f8fb"/>
<circle cx="282.40" cy="231.45" r="2.43" fill="#57a0ca"/>
<circle cx="289.10" cy="231.45" r="2.88" fill="#2a71b2"/>
<circle cx="295.80" cy="231.45" r="2.98" fill="#2166ac"/>
<circle cx="302.50" cy="231.45" r="2.10" fill="#8ac0db"/>
<circle cx="309.20" cy="231.45" r="2.88" fill="#2a71b2"/>
<circle cx="108.20" cy="238.15" r="0.59" fill="#fffaf7"/>
<circle cx="114.90" cy="238.15" r="0.71" fill="#f4f8fb"/>
<circle cx="121.60" cy="238.15" r="0.71" fill="#fef6f1"/>
<circle cx="128.30" cy="238.15" r="1.23" fill="#dcecf4"/>
<circle cx="135.00" cy="238.15" r="0.59" fill="#f8fbfd"/>
<circle cx="141.70" cy="238.15" r="0.59" fill="#fafcfe"/>
<circle cx="148.40" cy="238.15" r="0.59" fill="#fffaf7"/>
<circle cx="155.10" cy="238.15" r="0.71" fill="#f4f8fb"/>
<circle cx="161.80" cy="238.15" r="1.76" fill="#b2d5e7"/>
<circle cx="168.50" cy="238.15" r="1.43" fill="#d1e5f0"/>
<circle cx="175.20" cy="238.15" r="1.00" fill="#feede3"/>
<circle cx="181.90" cy="238.15" r="1.23" fill="#dcecf4"/>
<circle cx="188.60" cy="238.15" r="0.71" fill="#f4f8fb"/>
<circle cx="195.30" cy="238.15" r="0.59" fill="#fafcfe"/>
<circle cx="202.00" cy="238.15" r="1.00" fill="#e8f2f8"/>
<circle cx="208.70" cy="238.15" r="0.59" fill="#f8fbfd"/>
<circle cx="215.40" cy="238.15" r="0.71" fill="#f4f8fb"/>
<circle cx="222.10" cy="238.15" r="0.59" fill="#fffaf7"/>
<circle cx="228.80" cy="238.15" r="1.23" fill="#fee4d5"/>
<circle cx="235.50" cy="238.15" r="0.59" fill="#fafcfe"/>
<circle cx="242.20" cy="238.15" r="0.71" fill="#f4f8fb"/>
<circle cx="248.90" cy="238.15" r="0.71" fill="#f4f8fb"/>
<circle cx="255.60" cy="238.15" r="0.59" fill="#f8fbfd"/>
<circle cx="262.30" cy="238.15" r="1.50" fill="#cbe2ee"/>
<circle cx="269.00" cy="238.15" r="0.90" fill="#edf5f9"/>
<circle cx="275.70" cy="238.15" r="0.59" fill="#f8fbfd"/>
<circle cx="282.40" cy="238.15" r="1.35" fill="#d6e8f2"/>
<circle cx="289.10" cy="238.15" r="3.15" fill="#16508e"/>
<circle cx="295.80" cy="238.15" r="3.29" fill="#0c3e74"/>
<circle cx="302.50" cy="238.15" r="3.03" fill="#1e61a5"/>
<circle cx="309.20" cy="238.15" r="3.13" fill="#175392"/>
<circle cx="315.90" cy="238.15" r="2.77" fill="#327cb8"/>
<circle cx="108.20" cy="244.85" r="1.60" fill="#fbceb6"/>
<circle cx="114.90" cy="244.85" r="0.59" fill="#fffaf7"/>
<circle cx="121.60" cy="244.85" r="1.43" fill="#fddbc7"/>
<circle cx="128.30" cy="244.85" r="0.59" fill="#f8fbfd"/>
<circle cx="135.00" cy="244.85" r="0.59" fill="#f8fbfd"/>
<circle cx="141.70" cy="244.85" r="0.59" fill="#fafcfe"/>
<circle cx="148.40" cy="244.85" r="1.10" fill="#e3eff6"/>
<circle cx="155.10" cy="244.85" r="1.60" fill="#c1ddec"/>
<circle cx="161.80" cy="244.85" r="1.23" fill="#dcecf4"/>
<circle cx="168.50" cy="244.85" r="1.76" fill="#b2d5e7"/>
<circle cx="175.20" cy="244.85" r="0.59" fill="#fffaf7"/>
<circle cx="181.90" cy="244.85" r="0.59" fill="#f8fbfd"/>
<circle cx="188.60" cy="244.85" r="0.59" fill="#fafcfe"/>
<circle cx="195.30" cy="244.85" r="1.00" fill="#feede3"/>
<circle cx="202.00" cy="244.85" r="0.59" fill="#f8fbfd"/>
<circle cx="208.70" cy="244.85" r="2.05" fill="#92c5de"/>
<circle cx="215.40" cy="244.85" r="1.00" fill="#e8f2f8"/>
<circle cx="222.10" cy="244.85" r="1.43" fill="#fddbc7"/>
<circle cx="228.80" cy="244.85" r="0.59" fill="#fafcfe"/>
<circle cx="235.50" cy="244.85" r="0.59" fill="#fafcfe"/>
<circle cx="242.20" cy="244.85" r="1.43" fill="#d1e5f0"/>
<circle cx="248.90" cy="244.85" r="0.59" fill="#f8fbfd"/>
<circle cx="255.60" cy="244.85" r="0.59" fill="#fafcfe"/>
<circle cx="262.30" cy="244.85" r="1.00" fill="#e8f2f8"/>
<circle cx="269.00" cy="244.85" r="1.60" fill="#c1ddec"/>
<circle cx="275.70" cy="244.85" r="1.00" fill="#e8f2f8"/>
<circle cx="282.40" cy="244.85" r="2.55" fill="#4393c3"/>
<circle cx="289.10" cy="244.85" r="2.88" fill="#2a71b2"/>
<circle cx="295.80" cy="244.85" r="3.03" fill="#1e61a5"/>
<circle cx="302.50" cy="244.85" r="2.10" fill="#8ac0db"/>
<circle cx="309.20" cy="244.85" r="2.82" fill="#2f78b5"/>
<circle cx="315.90" cy="244.85" r="3.34" fill="#083568"/>
<circle cx="322.60" cy="244.85" r="2.94" fill="#246aae"/>
<circle cx="108.20" cy="251.55" r="1.43" fill="#fddbc7"/>
<circle cx="114.90" cy="251.55" r="0.71" fill="#fef6f1"/>
<circle cx="121.60" cy="251.55" r="1.10" fill="#fee9dd"/>
<circle cx="128.30" cy="251.55" r="0.59" fill="#fffaf7"/>
<circle cx="135.00" cy="251.55" r="0.59" fill="#fafcfe"/>
<circle cx="141.70" cy="251.55" r="0.59" fill="#fafcfe"/>
<circle cx="148.40" cy="251.55" r="0.71" fill="#f4f8fb"/>
<circle cx="155.10" cy="251.55" r="1.43" fill="#d1e5f0"/>
<circle cx="161.80" cy="251.55" r="1.91" fill="#a2cde2"/>
<circle cx="168.50" cy="251.55" r="1.60" fill="#c1ddec"/>
<circle cx="175.20" cy="251.55" r="0.59" fill="#fafcfe"/>
<circle cx="181.90" cy="251.55" r="1.43" fill="#d1e5f0"/>
<circle cx="188.60" cy="251.55" r="1.60" fill="#fbceb6"/>
<circle cx="195.30" cy="251.55" r="0.59" fill="#fffaf7"/>
<circle cx="202.00" cy="251.55" r="0.59" fill="#fafcfe"/>
<circle cx="208.70" cy="251.55" r="1.10" fill="#e3eff6"/>
<circle cx="215.40" cy="251.55" r="1.43" fill="#d1e5f0"/>
<circle cx="222.10" cy="251.55" r="1.23" fill="#fee4d5"/>
<circle cx="228.80" cy="251.55" r="0.90" fill="#fef1e9"/>
<circle cx="235.50" cy="251.55" r="0.59" fill="#fafcfe"/>
<circle cx="242.20" cy="251.55" r="1.43" fill="#d1e5f0"/>
<circle cx="248.90" cy="251.55" r="0.59" fill="#f8fbfd"/>
<circle cx="255.60" cy="251.55" r="0.59" fill="#fafcfe"/>
<circle cx="262.30" cy="251.55" r="1.76" fill="#b2d5e7"/>
<circle cx="269.00" cy="251.55" r="1.00" fill="#e8f2f8"/>
<circle cx="275.70" cy="251.55" r="0.71" fill="#f4f8fb"/>
<circle cx="282.40" cy="251.55" r="2.05" fill="#92c5de"/>
<circle cx="289.10" cy="251.55" r="2.55" fill="#4393c3"/>
<circle cx="295.80" cy="251.55" r="3.03" fill="#1e61a5"/>
<circle cx="302.50" cy="251.55" r="2.00" fill="#98c8e0"/>
<circle cx="309.20" cy="251.55" r="3.03" fill="#1e61a5"/>
<circle cx="315.90" cy="251.55" r="2.73" fill="#3581ba"/>
<circle cx="322.60" cy="251.55" r="2.94" fill="#246aae"/>
<circle cx="329.30" cy="251.55" r="3.13" fill="#175392"/>
<circle cx="108.20" cy="258.25" r="1.43" fill="#d1e5f0"/>
<circle cx="114.90" cy="258.25" r="0.59" fill="#fafcfe"/>
<circle cx="121.60" cy="258.25" r="0.71" fill="#f4f8fb"/>
<circle cx="128.30" cy="258.25" r="0.59" fill="#fafcfe"/>
<circle cx="135.00" cy="258.25" r="0.59" fill="#fffaf7"/>
<circle cx="141.70" cy="258.25" r="0.59" fill="#fffaf7"/>
<circle cx="148.40" cy="258.25" r="1.23" fill="#fee4d5"/>
<circle cx="155.10" cy="258.25" r="1.60" fill="#fbceb6"/>
<circle cx="161.80" cy="258.25" r="0.59" fill="#fafcfe"/>
<circle cx="168.50" cy="258.25" r="1.43" fill="#fddbc7"/>
<circle cx="175.20" cy="258.25" r="0.59" fill="#fafcfe"/>
<circle cx="181.90" cy="258.25" r="0.59" fill="#fafcfe"/>
<circle cx="188.60" cy="258.25" r="0.59" fill="#fafcfe"/>
<circle cx="195.30" cy="258.25" r="1.60" fill="#c1ddec"/>
<circle cx="202.00" cy="258.25" r="1.00" fill="#feede3"/>
<circle cx="208.70" cy="258.25" r="2.43" fill="#de715a"/>
<circle cx="215.40" cy="258.25" r="0.71" fill="#fef6f1"/>
<circle cx="222.10" cy="258.25" r="1.76" fill="#b2d5e7"/>
<circle cx="228.80" cy="258.25" r="0.59" fill="#fafcfe"/>
<circle cx="235.50" cy="258.25" r="0.59" fill="#f8fbfd"/>
<circle cx="242.20" cy="258.25" r="1.60" fill="#fbceb6"/>
<circle cx="248.90" cy="258.25" r="0.59" fill="#fafcfe"/>
<circle cx="255.60" cy="258.25" r="0.59" fill="#fafcfe"/>
<circle cx="262.30" cy="258.25" r="0.59" fill="#fffaf7"/>
<circle cx="269.00" cy="258.25" r="1.43" fill="#fddbc7"/>
<circle cx="275.70" cy="258.25" r="1.00" fill="#feede3"/>
<circle cx="282.40" cy="258.25" r="2.55" fill="#d6604d"/>
<circle cx="289.10" cy="258.25" r="1.76" fill="#f8c0a4"/>
<circle cx="295.80" cy="258.25" r="2.55" fill="#d6604d"/>
<circle cx="302.50" cy="258.25" r="1.76" fill="#f8c0a4"/>
<circle cx="309.20" cy="258.25" r="1.60" fill="#fbceb6"/>
<circle cx="315.90" cy="258.25" r="2.98" fill="#b2182b"/>
<circle cx="322.60" cy="258.25" r="2.05" fill="#f4a582"/>
<circle cx="329.30" cy="258.25" r="3.03" fill="#aa162a"/>
<circle cx="336.00" cy="258.25" r="2.05" fill="#f4a582"/>
<circle cx="108.20" cy="264.95" r="0.59" fill="#fffaf7"/>
<circle cx="114.90" cy="264.95" r="0.59" fill="#fffaf7"/>
<circle cx="121.60" cy="264.95" r="0.71" fill="#fef6f1"/>
<circle cx="128.30" cy="264.95" r="0.59" fill="#f8fbfd"/>
<circle cx="135.00" cy="264.95" r="1.00" fill="#e8f2f8"/>
<circle cx="141.70" cy="264.95" r="0.59" fill="#fafcfe"/>
<circle cx="148.40" cy="264.95" r="0.71" fill="#f4f8fb"/>
<circle cx="155.10" cy="264.95" r="0.59" fill="#f8fbfd"/>
<circle cx="161.80" cy="264.95" r="1.76" fill="#b2d5e7"/>
<circle cx="168.50" cy="264.95" r="0.71" fill="#fef6f1"/>
<circle cx="175.20" cy="264.95" r="0.59" fill="#fafcfe"/>
<circle cx="181.90" cy="264.95" r="1.43" fill="#d1e5f0"/>
<circle cx="188.60" cy="264.95" r="1.43" fill="#fddbc7"/>
<circle cx="195.30" cy="264.95" r="0.90" fill="#edf5f9"/>
<circle cx="202.00" cy="264.95" r="1.23" fill="#fee4d5"/>
<circle cx="208.70" cy="264.95" r="1.43" fill="#fddbc7"/>
<circle cx="215.40" cy="264.95" r="0.71" fill="#f4f8fb"/>
<circle cx="222.10" cy="264.95" r="0.71" fill="#f4f8fb"/>
<circle cx="228.80" cy="264.95" r="0.59" fill="#fafcfe"/>
<circle cx="235.50" cy="264.95" r="0.90" fill="#edf5f9"/>
<circle cx="242.20" cy="264.95" r="0.59" fill="#f8fbfd"/>
<circle cx="248.90" cy="264.95" r="0.59" fill="#fafcfe"/>
<circle cx="255.60" cy="264.95" r="0.59" fill="#fafcfe"/>
<circle cx="262.30" cy="264.95" r="1.76" fill="#b2d5e7"/>
<circle cx="269.00" cy="264.95" r="0.59" fill="#f8fbfd"/>
<circle cx="275.70" cy="264.95" r="0.71" fill="#f4f8fb"/>
<circle cx="282.40" cy="264.95" r="0.59" fill="#fffaf7"/>
<circle cx="289.10" cy="264.95" r="2.18" fill="#7eb8d7"/>
<circle cx="295.80" cy="264.95" r="1.43" fill="#d1e5f0"/>
<circle cx="302.50" cy="264.95" r="0.59" fill="#fafcfe"/>
<circle cx="309.20" cy="264.95" r="1.91" fill="#a2cde2"/>
<circle cx="315.90" cy="264.95" r="0.90" fill="#edf5f9"/>
<circle cx="322.60" cy="264.95" r="1.43" fill="#d1e5f0"/>
<circle cx="329.30" cy="264.95" r="0.71" fill="#f4f8fb"/>
<circle cx="336.00" cy="264.95" r="2.18" fill="#7eb8d7"/>
<circle cx="342.70" cy="264.95" r="1.91" fill="#a2cde2"/>
<g font-size="2.1" fill="#fff" text-anchor="middle">
<text x="108.20" y="31.15">0.25</text>
<text x="108.20" y="44.55">0.55</text>
<text x="114.90" y="44.55">0.40</text>
<text x="121.60" y="51.25">-0.35</text>
<text x="114.90" y="57.95">0.28</text>
<text x="108.20" y="64.65">-0.45</text>
<text x="114.90" y="64.65">-0.20</text>
<text x="121.60" y="64.65">-0.40</text>
<text x="128.30" y="64.65">-0.22</text>
<text x="108.20" y="71.35">-0.45</text>
<text x="121.60" y="71.35">-0.30</text>
<text x="148.40" y="71.35">0.45</text>
<text x="108.20" y="78.05">-0.25</text>
<text x="155.10" y="78.05">0.40</text>
<text x="121.60" y="84.75">-0.30</text>
<text x="148.40" y="84.75">0.50</text>
<text x="155.10" y="84.75">0.45</text>
<text x="108.20" y="91.45">-0.45</text>
<text x="128.30" y="91.45">-0.20</text>
<text x="148.40" y="91.45">0.25</text>
<text x="108.20" y="98.15">-0.30</text>
<text x="168.50" y="98.15">0.20</text>
<text x="175.20" y="98.15">0.80</text>
<text x="108.20" y="104.85">0.40</text>
<text x="114.90" y="104.85">0.25</text>
<text x="128.30" y="104.85">0.50</text>
<text x="148.40" y="104.85">-0.30</text>
<text x="168.50" y="104.85">-0.40</text>
<text x="175.20" y="104.85">-0.20</text>
<text x="181.90" y="104.85">-0.35</text>
<text x="108.20" y="111.55">0.55</text>
<text x="128.30" y="111.55">0.40</text>
<text x="148.40" y="111.55">-0.25</text>
<text x="155.10" y="111.55">-0.30</text>
<text x="188.60" y="111.55">0.25</text>
<text x="121.60" y="118.25">-0.20</text>
<text x="128.30" y="118.25">0.30</text>
<text x="108.20" y="124.95">-0.35</text>
<text x="155.10" y="124.95">0.20</text>
<text x="175.20" y="124.95">0.60</text>
<text x="181.90" y="124.95">0.30</text>
<text x="195.30" y="124.95">-0.20</text>
<text x="108.20" y="131.65">-0.30</text>
<text x="121.60" y="131.65">-0.25</text>
<text x="148.40" y="131.65">0.70</text>
<text x="155.10" y="131.65">0.45</text>
<text x="161.80" y="131.65">0.30</text>
<text x="168.50" y="131.65">0.45</text>
<text x="188.60" y="131.65">-0.30</text>
<text x="108.20" y="138.35">0.60</text>
<text x="114.90" y="138.35">0.30</text>
<text x="121.60" y="138.35">0.20</text>
<text x="128.30" y="138.35">0.50</text>
<text x="148.40" y="138.35">-0.50</text>
<text x="155.10" y="138.35">-0.45</text>
<text x="161.80" y="138.35">-0.20</text>
<text x="168.50" y="138.35">-0.30</text>
<text x="188.60" y="138.35">0.50</text>
<text x="195.30" y="138.35">0.60</text>
<text x="208.70" y="138.35">-0.25</text>
<text x="215.40" y="138.35">-0.45</text>
<text x="121.60" y="151.75">0.70</text>
<text x="108.20" y="158.45">-0.55</text>
<text x="114.90" y="158.45">-0.30</text>
<text x="128.30" y="158.45">-0.30</text>
<text x="141.70" y="158.45">-0.20</text>
<text x="148.40" y="158.45">0.30</text>
<text x="155.10" y="158.45">0.35</text>
<text x="161.80" y="158.45">0.25</text>
<text x="168.50" y="158.45">0.20</text>
<text x="188.60" y="158.45">-0.35</text>
<text x="195.30" y="158.45">-0.50</text>
<text x="215.40" y="158.45">0.50</text>
<text x="222.10" y="158.45">-0.95</text>
<text x="235.50" y="158.45">-0.20</text>
<text x="108.20" y="165.15">-0.50</text>
<text x="141.70" y="165.15">0.20</text>
<text x="148.40" y="165.15">0.30</text>
<text x="155.10" y="165.15">0.60</text>
<text x="161.80" y="165.15">0.70</text>
<text x="168.50" y="165.15">0.25</text>
<text x="195.30" y="165.15">-0.55</text>
<text x="208.70" y="165.15">0.20</text>
<text x="215.40" y="165.15">0.40</text>
<text x="222.10" y="165.15">-0.40</text>
<text x="242.20" y="165.15">0.30</text>
<text x="135.00" y="171.85">-0.20</text>
<text x="155.10" y="171.85">0.30</text>
<text x="161.80" y="171.85">0.20</text>
<text x="168.50" y="171.85">0.20</text>
<text x="215.40" y="171.85">0.20</text>
<text x="248.90" y="171.85">0.30</text>
<text x="128.30" y="178.55">0.25</text>
<text x="148.40" y="178.55">0.25</text>
<text x="161.80" y="178.55">0.45</text>
<text x="168.50" y="178.55">0.25</text>
<text x="188.60" y="178.55">-0.35</text>
<text x="108.20" y="185.25">-0.30</text>
<text x="128.30" y="185.25">-0.30</text>
<text x="135.00" y="185.25">0.72</text>
<text x="148.40" y="185.25">0.40</text>
<text x="155.10" y="185.25">0.20</text>
<text x="188.60" y="185.25">-0.20</text>
<text x="195.30" y="185.25">-0.35</text>
<text x="208.70" y="185.25">0.20</text>
<text x="222.10" y="185.25">-0.40</text>
<text x="242.20" y="185.25">0.25</text>
<text x="121.60" y="191.95">-0.30</text>
<text x="148.40" y="191.95">0.25</text>
<text x="155.10" y="191.95">0.30</text>
<text x="161.80" y="191.95">0.25</text>
<text x="195.30" y="191.95">-0.30</text>
<text x="222.10" y="191.95">-0.20</text>
<text x="108.20" y="198.65">-0.45</text>
<text x="135.00" y="198.65">0.35</text>
<text x="155.10" y="198.65">0.25</text>
<text x="208.70" y="198.65">0.25</text>
<text x="222.10" y="198.65">-0.25</text>
<text x="269.00" y="198.65">0.50</text>
<text x="148.40" y="205.35">-0.20</text>
<text x="161.80" y="205.35">0.30</text>
<text x="161.80" y="212.05">0.30</text>
<text x="168.50" y="212.05">0.20</text>
<text x="262.30" y="212.05">0.25</text>
<text x="282.40" y="212.05">0.25</text>
<text x="289.10" y="212.05">0.75</text>
<text x="114.90" y="218.75">0.20</text>
<text x="128.30" y="218.75">0.40</text>
<text x="135.00" y="218.75">-0.25</text>
<text x="148.40" y="218.75">-0.25</text>
<text x="161.80" y="218.75">0.30</text>
<text x="188.60" y="218.75">0.30</text>
<text x="228.80" y="218.75">-0.20</text>
<text x="262.30" y="218.75">0.20</text>
<text x="289.10" y="218.75">0.75</text>
<text x="295.80" y="218.75">0.80</text>
<text x="161.80" y="225.45">0.20</text>
<text x="168.50" y="225.45">0.25</text>
<text x="262.30" y="225.45">0.25</text>
<text x="289.10" y="225.45">0.75</text>
<text x="295.80" y="225.45">0.80</text>
<text x="302.50" y="225.45">0.30</text>
<text x="108.20" y="232.15">-0.20</text>
<text x="155.10" y="232.15">0.20</text>
<text x="161.80" y="232.15">0.25</text>
<text x="208.70" y="232.15">0.35</text>
<text x="269.00" y="232.15">0.22</text>
<text x="282.40" y="232.15">0.55</text>
<text x="289.10" y="232.15">0.75</text>
<text x="295.80" y="232.15">0.80</text>
<text x="302.50" y="232.15">0.42</text>
<text x="309.20" y="232.15">0.75</text>
<text x="161.80" y="238.85">0.30</text>
<text x="168.50" y="238.85">0.20</text>
<text x="262.30" y="238.85">0.22</text>
<text x="289.10" y="238.85">0.88</text>
<text x="295.80" y="238.85">0.95</text>
<text x="302.50" y="238.85">0.82</text>
<text x="309.20" y="238.85">0.87</text>
<text x="315.90" y="238.85">0.70</text>
<text x="108.20" y="245.55">-0.25</text>
<text x="121.60" y="245.55">-0.20</text>
<text x="155.10" y="245.55">0.25</text>
<text x="168.50" y="245.55">0.30</text>
<text x="208.70" y="245.55">0.40</text>
<text x="222.10" y="245.55">-0.20</text>
<text x="242.20" y="245.55">0.20</text>
<text x="269.00" y="245.55">0.25</text>
<text x="282.40" y="245.55">0.60</text>
<text x="289.10" y="245.55">0.75</text>
<text x="295.80" y="245.55">0.82</text>
<text x="302.50" y="245.55">0.42</text>
<text x="309.20" y="245.55">0.72</text>
<text x="315.90" y="245.55">0.98</text>
<text x="322.60" y="245.55">0.78</text>
<text x="108.20" y="252.25">-0.20</text>
<text x="155.10" y="252.25">0.20</text>
<text x="161.80" y="252.25">0.35</text>
<text x="168.50" y="252.25">0.25</text>
<text x="181.90" y="252.25">0.20</text>
<text x="188.60" y="252.25">-0.25</text>
<text x="215.40" y="252.25">0.20</text>
<text x="242.20" y="252.25">0.20</text>
<text x="262.30" y="252.25">0.30</text>
<text x="282.40" y="252.25">0.40</text>
<text x="289.10" y="252.25">0.60</text>
<text x="295.80" y="252.25">0.82</text>
<text x="302.50" y="252.25">0.38</text>
<text x="309.20" y="252.25">0.82</text>
<text x="315.90" y="252.25">0.68</text>
<text x="322.60" y="252.25">0.78</text>
<text x="329.30" y="252.25">0.87</text>
<text x="108.20" y="258.95">0.20</text>
<text x="155.10" y="258.95">-0.25</text>
<text x="168.50" y="258.95">-0.20</text>
<text x="195.30" y="258.95">0.25</text>
<text x="208.70" y="258.95">-0.55</text>
<text x="222.10" y="258.95">0.30</text>
<text x="242.20" y="258.95">-0.25</text>
<text x="269.00" y="258.95">-0.20</text>
<text x="282.40" y="258.95">-0.60</text>
<text x="289.10" y="258.95">-0.30</text>
<text x="295.80" y="258.95">-0.60</text>
<text x="302.50" y="258.95">-0.30</text>
<text x="309.20" y="258.95">-0.25</text>
<text x="315.90" y="258.95">-0.80</text>
<text x="322.60" y="258.95">-0.40</text>
<text x="329.30" y="258.95">-0.82</text>
<text x="336.00" y="258.95">-0.40</text>
<text x="161.80" y="265.65">0.30</text>
<text x="181.90" y="265.65">0.20</text>
<text x="188.60" y="265.65">-0.20</text>
<text x="208.70" y="265.65">-0.20</text>
<text x="262.30" y="265.65">0.30</text>
<text x="289.10" y="265.65">0.45</text>
<text x="295.80" y="265.65">0.20</text>
<text x="309.20" y="265.65">0.35</text>
<text x="322.60" y="265.65">0.20</text>
<text x="336.00" y="265.65">0.45</text>
<text x="342.70" y="265.65">0.35</text>
</g>
<rect x="104.85" y="208.2" width="187.35" height="60.1" fill="none" stroke="#1a1a1a" stroke-width="1.05" stroke-linejoin="round"/>
<g font-size="5.6" fill="#111" stroke="#111" stroke-width="0.12" text-anchor="end">
<text x="102.35" y="32.15">Basophils %</text>
<text x="102.35" y="38.85">Chlorine</text>
<text x="102.35" y="45.55">Total cholesterol</text>
<text x="102.35" y="52.25">Creatinine</text>
<text x="102.35" y="58.95">Eosinophils %</text>
<text x="102.35" y="65.65">Ferritine</text>
<text x="102.35" y="72.35">Immature granulocytes</text>
<text x="102.35" y="79.05">Fibrinogen</text>
<text x="102.35" y="85.75">Glucose</text>
<text x="102.35" y="92.45">GOT/AST</text>
<text x="102.35" y="99.15">GPT/ALT</text>
<text x="102.35" y="105.85">HDL</text>
<text x="102.35" y="112.55">Hematocrit</text>
<text x="102.35" y="119.25">Potassium</text>
<text x="102.35" y="125.95">LDH</text>
<text x="102.35" y="132.65">Leucocytes</text>
<text x="102.35" y="139.35">Lymphocytes %</text>
<text x="102.35" y="146.05">Monocytes %</text>
<text x="102.35" y="152.75">Sodium</text>
<text x="102.35" y="159.45">Neutrophils %</text>
<text x="102.35" y="166.15">CRP</text>
<text x="102.35" y="172.85">Platelets</text>
<text x="102.35" y="179.55">Triglycerides</text>
<text x="102.35" y="186.25">Urea</text>
<text x="102.35" y="192.95">Tumor size</text>
<text x="102.35" y="199.65">Age</text>
<text x="102.35" y="206.35">BMI</text>
<text x="102.35" y="213.05">Total body area L3</text>
<text x="102.35" y="219.75">SFA</text>
<text x="102.35" y="226.45">VFA</text>
<text x="102.35" y="233.15">IMFA</text>
<text x="102.35" y="239.85">TFA</text>
<text x="102.35" y="246.55">VLDMA</text>
<text x="102.35" y="253.25">LDMA</text>
<text x="102.35" y="259.95">NDMA</text>
<text x="102.35" y="266.65">TMA</text>
</g>
<g font-size="5.6" fill="#111" stroke="#111" stroke-width="0.12">
<text transform="translate(110.10 26.20) rotate(-90)">Albumin</text>
<text transform="translate(116.80 32.90) rotate(-90)">Basophils %</text>
<text transform="translate(123.50 39.60) rotate(-90)">Chlorine</text>
<text transform="translate(130.20 46.30) rotate(-90)">Total cholesterol</text>
<text transform="translate(136.90 53.00) rotate(-90)">Creatinine</text>
<text transform="translate(143.60 59.70) rotate(-90)">Eosinophils %</text>
<text transform="translate(150.30 66.40) rotate(-90)">Ferritine</text>
<text transform="translate(157.00 73.10) rotate(-90)">Immature granulocytes</text>
<text transform="translate(163.70 79.80) rotate(-90)">Fibrinogen</text>
<text transform="translate(170.40 86.50) rotate(-90)">Glucose</text>
<text transform="translate(177.10 93.20) rotate(-90)">GOT/AST</text>
<text transform="translate(183.80 99.90) rotate(-90)">GPT/ALT</text>
<text transform="translate(190.50 106.60) rotate(-90)">HDL</text>
<text transform="translate(197.20 113.30) rotate(-90)">Hematocrit</text>
<text transform="translate(203.90 120.00) rotate(-90)">Potassium</text>
<text transform="translate(210.60 126.70) rotate(-90)">LDH</text>
<text transform="translate(217.30 133.40) rotate(-90)">Leucocytes</text>
<text transform="translate(224.00 140.10) rotate(-90)">Lymphocytes %</text>
<text transform="translate(230.70 146.80) rotate(-90)">Monocytes %</text>
<text transform="translate(237.40 153.50) rotate(-90)">Sodium</text>
<text transform="translate(244.10 160.20) rotate(-90)">Neutrophils %</text>
<text transform="translate(250.80 166.90) rotate(-90)">CRP</text>
<text transform="translate(257.50 173.60) rotate(-90)">Platelets</text>
<text transform="translate(264.20 180.30) rotate(-90)">Triglycerides</text>
<text transform="translate(270.90 187.00) rotate(-90)">Urea</text>
<text transform="translate(277.60 193.70) rotate(-90)">Tumor size</text>
<text transform="translate(284.30 200.40) rotate(-90)">Age</text>
<text transform="translate(291.00 207.10) rotate(-90)">BMI</text>
<text transform="translate(297.70 213.80) rotate(-90)">Total body area L3</text>
<text transform="translate(304.40 220.50) rotate(-90)">SFA</text>
<text transform="translate(311.10 227.20) rotate(-90)">VFA</text>
<text transform="translate(317.80 233.90) rotate(-90)">IMFA</text>
<text transform="translate(324.50 240.60) rotate(-90)">TFA</text>
<text transform="translate(331.20 247.30) rotate(-90)">VLDMA</text>
<text transform="translate(337.90 254.00) rotate(-90)">LDMA</text>
<text transform="translate(344.60 260.70) rotate(-90)">NDMA</text>
</g>
<rect x="104.85" y="273.30" width="241.20" height="9.40" fill="url(#cb)" stroke="#333" stroke-width="0.4"/>
<g font-size="4.5" fill="#222" stroke="#222" stroke-width="0.06" text-anchor="middle">
<text x="104.85" y="290.6">-1</text>
<path d="M104.85 282.70v1.2" stroke="#444" stroke-width="0.4"/>
<text x="128.97" y="290.6">-0.8</text>
<path d="M128.97 282.70v1.2" stroke="#444" stroke-width="0.4"/>
<text x="153.09" y="290.6">-0.6</text>
<path d="M153.09 282.70v1.2" stroke="#444" stroke-width="0.4"/>
<text x="177.21" y="290.6">-0.4</text>
<path d="M177.21 282.70v1.2" stroke="#444" stroke-width="0.4"/>
<text x="201.33" y="290.6">-0.2</text>
<path d="M201.33 282.70v1.2" stroke="#444" stroke-width="0.4"/>
<text x="225.45" y="290.6">0</text>
<path d="M225.45 282.70v1.2" stroke="#444" stroke-width="0.4"/>
<text x="249.57" y="290.6">0.2</text>
<path d="M249.57 282.70v1.2" stroke="#444" stroke-width="0.4"/>
<text x="273.69" y="290.6">0.4</text>
<path d="M273.69 282.70v1.2" stroke="#444" stroke-width="0.4"/>
<text x="297.81" y="290.6">0.6</text>
<path d="M297.81 282.70v1.2" stroke="#444" stroke-width="0.4"/>
<text x="321.93" y="290.6">0.8</text>
<path d="M321.93 282.70v1.2" stroke="#444" stroke-width="0.4"/>
<text x="346.05" y="290.6">1</text>
<path d="M346.05 282.70v1.2" stroke="#444" stroke-width="0.4"/>
</g>
<line x1="104.6" y1="427.4" x2="89.4" y2="353.1" stroke="#dde8f2" stroke-width="0.60"/>
<line x1="104.6" y1="427.4" x2="143.6" y2="342.6" stroke="#dde8f2" stroke-width="0.60"/>
<line x1="104.6" y1="427.4" x2="170.9" y2="370.8" stroke="#dde8f2" stroke-width="0.60"/>
<line x1="104.6" y1="427.4" x2="105.4" y2="389.0" stroke="#dde8f2" stroke-width="0.60"/>
<line x1="104.6" y1="427.4" x2="151.9" y2="408.9" stroke="#dde8f2" stroke-width="0.60"/>
<line x1="104.6" y1="427.4" x2="70.6" y2="415.9" stroke="#dde8f2" stroke-width="0.60"/>
<line x1="104.6" y1="427.4" x2="48.4" y2="428.4" stroke="#dde8f2" stroke-width="0.60"/>
<line x1="104.6" y1="427.4" x2="151.2" y2="442.6" stroke="#dde8f2" stroke-width="0.60"/>
<line x1="104.6" y1="427.4" x2="132.1" y2="474.0" stroke="#dde8f2" stroke-width="0.60"/>
<line x1="104.6" y1="427.4" x2="79.9" y2="486.2" stroke="#dde8f2" stroke-width="0.60"/>
<line x1="104.6" y1="427.4" x2="115.6" y2="511.6" stroke="#dde8f2" stroke-width="0.60"/>
<line x1="104.6" y1="427.4" x2="196.1" y2="479.2" stroke="#dde8f2" stroke-width="0.60"/>
<line x1="104.6" y1="427.4" x2="171.9" y2="502.4" stroke="#dde8f2" stroke-width="0.60"/>
<line x1="104.6" y1="427.4" x2="215.4" y2="426.9" stroke="#dde8f2" stroke-width="0.60"/>
<line x1="104.6" y1="427.4" x2="210.1" y2="372.9" stroke="#dde8f2" stroke-width="0.60"/>
<line x1="291.8" y1="402.0" x2="300.0" y2="328.4" stroke="#dde8f2" stroke-width="0.60"/>
<line x1="291.8" y1="402.0" x2="340.8" y2="376.0" stroke="#dde8f2" stroke-width="0.60"/>
<line x1="291.8" y1="402.0" x2="350.1" y2="406.7" stroke="#dde8f2" stroke-width="0.60"/>
<line x1="291.8" y1="402.0" x2="345.3" y2="424.4" stroke="#dde8f2" stroke-width="0.60"/>
<line x1="291.8" y1="402.0" x2="334.1" y2="442.6" stroke="#dde8f2" stroke-width="0.60"/>
<line x1="291.8" y1="402.0" x2="323.3" y2="473.0" stroke="#dde8f2" stroke-width="0.60"/>
<line x1="291.8" y1="402.0" x2="257.8" y2="458.7" stroke="#dde8f2" stroke-width="0.60"/>
<line x1="291.8" y1="402.0" x2="227.3" y2="470.1" stroke="#dde8f2" stroke-width="0.60"/>
<line x1="291.8" y1="402.0" x2="252.1" y2="514.9" stroke="#dde8f2" stroke-width="0.60"/>
<line x1="291.8" y1="402.0" x2="296.9" y2="494.9" stroke="#dde8f2" stroke-width="0.60"/>
<line x1="291.8" y1="402.0" x2="226.4" y2="332.7" stroke="#dde8f2" stroke-width="0.60"/>
<line x1="291.8" y1="402.0" x2="267.1" y2="314.7" stroke="#dde8f2" stroke-width="0.60"/>
<line x1="291.8" y1="402.0" x2="266.6" y2="359.6" stroke="#dde8f2" stroke-width="0.60"/>
<line x1="291.8" y1="402.0" x2="215.4" y2="426.9" stroke="#dde8f2" stroke-width="0.60"/>
<line x1="291.8" y1="402.0" x2="210.1" y2="372.9" stroke="#dde8f2" stroke-width="0.60"/>
<line x1="291.8" y1="402.0" x2="196.8" y2="419.2" stroke="#dde8f2" stroke-width="0.60"/>
<line x1="89.4" y1="353.1" x2="70.6" y2="415.9" stroke="#dde8f2" stroke-width="0.60"/>
<line x1="89.4" y1="353.1" x2="48.4" y2="428.4" stroke="#dde8f2" stroke-width="0.60"/>
<line x1="70.6" y1="415.9" x2="151.9" y2="408.9" stroke="#dde8f2" stroke-width="0.60"/>
<line x1="89.4" y1="353.1" x2="132.1" y2="474.0" stroke="#dde8f2" stroke-width="0.60"/>
<line x1="89.4" y1="353.1" x2="151.2" y2="442.6" stroke="#dde8f2" stroke-width="0.60"/>
<line x1="89.4" y1="353.1" x2="79.9" y2="486.2" stroke="#dde8f2" stroke-width="0.60"/>
<line x1="89.4" y1="353.1" x2="151.9" y2="408.9" stroke="#dde8f2" stroke-width="0.60"/>
<line x1="89.4" y1="353.1" x2="196.8" y2="419.2" stroke="#dde8f2" stroke-width="0.60"/>
<line x1="143.6" y1="342.6" x2="151.2" y2="442.6" stroke="#dde8f2" stroke-width="0.60"/>
<line x1="143.6" y1="342.6" x2="151.9" y2="408.9" stroke="#dde8f2" stroke-width="0.60"/>
<line x1="170.9" y1="370.8" x2="210.1" y2="372.9" stroke="#dde8f2" stroke-width="0.60"/>
<line x1="170.9" y1="370.8" x2="132.1" y2="474.0" stroke="#dde8f2" stroke-width="0.60"/>
<line x1="170.9" y1="370.8" x2="151.9" y2="408.9" stroke="#dde8f2" stroke-width="0.60"/>
<line x1="226.4" y1="332.7" x2="300.0" y2="328.4" stroke="#c8dced" stroke-width="0.80"/>
<line x1="300.0" y1="328.4" x2="340.8" y2="376.0" stroke="#dde8f2" stroke-width="0.60"/>
<line x1="300.0" y1="328.4" x2="266.6" y2="359.6" stroke="#dde8f2" stroke-width="0.60"/>
<line x1="267.1" y1="314.7" x2="300.0" y2="328.4" stroke="#dde8f2" stroke-width="0.60"/>
<line x1="257.8" y1="458.7" x2="252.1" y2="514.9" stroke="#dde8f2" stroke-width="0.60"/>
<line x1="257.8" y1="458.7" x2="227.3" y2="470.1" stroke="#dde8f2" stroke-width="0.60"/>
<line x1="234.4" y1="402.0" x2="252.1" y2="514.9" stroke="#dde8f2" stroke-width="0.60"/>
<line x1="215.4" y1="426.9" x2="227.3" y2="470.1" stroke="#dde8f2" stroke-width="0.60"/>
<line x1="296.9" y1="494.9" x2="323.3" y2="473.0" stroke="#dde8f2" stroke-width="0.60"/>
<line x1="296.9" y1="494.9" x2="291.8" y2="402.0" stroke="#dde8f2" stroke-width="0.60"/>
<line x1="151.9" y1="408.9" x2="196.8" y2="419.2" stroke="#dde8f2" stroke-width="0.60"/>
<line x1="151.2" y1="442.6" x2="196.8" y2="419.2" stroke="#dde8f2" stroke-width="0.60"/>
<line x1="151.2" y1="442.6" x2="196.1" y2="479.2" stroke="#dde8f2" stroke-width="0.60"/>
<line x1="132.1" y1="474.0" x2="196.1" y2="479.2" stroke="#dde8f2" stroke-width="0.60"/>
<line x1="151.9" y1="408.9" x2="132.1" y2="474.0" stroke="#dde8f2" stroke-width="0.60"/>
<line x1="151.2" y1="442.6" x2="132.1" y2="474.0" stroke="#dde8f2" stroke-width="0.60"/>
<line x1="79.9" y1="486.2" x2="132.1" y2="474.0" stroke="#dde8f2" stroke-width="0.60"/>
<line x1="48.4" y1="428.4" x2="79.9" y2="486.2" stroke="#dde8f2" stroke-width="0.60"/>
<line x1="196.8" y1="419.2" x2="196.1" y2="479.2" stroke="#dde8f2" stroke-width="0.60"/>
<line x1="196.8" y1="419.2" x2="215.4" y2="426.9" stroke="#dde8f2" stroke-width="0.60"/>
<line x1="210.1" y1="372.9" x2="196.8" y2="419.2" stroke="#dde8f2" stroke-width="0.60"/>
<line x1="334.1" y1="442.6" x2="323.3" y2="473.0" stroke="#cfe0ee" stroke-width="0.60"/>
<line x1="340.8" y1="376.0" x2="291.8" y2="402.0" stroke="#dde8f2" stroke-width="0.60"/>
<line x1="104.6" y1="427.4" x2="196.8" y2="419.2" stroke="#bcd3e9" stroke-width="1.20"/>
<line x1="234.4" y1="402.0" x2="291.8" y2="402.0" stroke="#c5d9eb" stroke-width="1.00"/>
<line x1="70.6" y1="415.9" x2="79.9" y2="486.2" stroke="#c9dcec" stroke-width="0.90"/>
<line x1="104.6" y1="427.4" x2="132.1" y2="474.0" stroke="#d3e2ef" stroke-width="0.80"/>
<line x1="196.1" y1="479.2" x2="171.9" y2="502.4" stroke="#a9c9e6" stroke-width="1.60"/>
<line x1="89.4" y1="353.1" x2="143.6" y2="342.6" stroke="#8db6da" stroke-width="1.50"/>
<line x1="89.4" y1="353.1" x2="170.9" y2="370.8" stroke="#8db6da" stroke-width="1.50"/>
<line x1="143.6" y1="342.6" x2="170.9" y2="370.8" stroke="#8db6da" stroke-width="1.30"/>
<line x1="227.3" y1="470.1" x2="296.9" y2="494.9" stroke="#8db6da" stroke-width="1.50"/>
<line x1="227.3" y1="470.1" x2="252.1" y2="514.9" stroke="#8db6da" stroke-width="1.40"/>
<line x1="252.1" y1="514.9" x2="296.9" y2="494.9" stroke="#8db6da" stroke-width="1.90"/>
<line x1="226.4" y1="332.7" x2="267.1" y2="314.7" stroke="#8ab6dd" stroke-width="1.70"/>
<line x1="226.4" y1="332.7" x2="266.6" y2="359.6" stroke="#8ab6dd" stroke-width="1.30"/>
<line x1="267.1" y1="314.7" x2="266.6" y2="359.6" stroke="#b9d3ea" stroke-width="0.60"/>
<line x1="226.4" y1="332.7" x2="227.3" y2="470.1" stroke="#dde8f2" stroke-width="0.60"/>
<line x1="266.6" y1="359.6" x2="215.4" y2="426.9" stroke="#dde8f2" stroke-width="0.60"/>
<line x1="300.0" y1="328.4" x2="296.9" y2="494.9" stroke="#dde8f2" stroke-width="0.60"/>
<line x1="266.6" y1="359.6" x2="300.0" y2="328.4" stroke="#dde8f2" stroke-width="0.60"/>
<circle cx="89.4" cy="353.1" r="3.5" fill="#ffff00"/>
<circle cx="143.6" cy="342.6" r="3.7" fill="#ffff00"/>
<circle cx="170.9" cy="370.8" r="4.0" fill="#ffff00"/>
<circle cx="105.4" cy="389.0" r="3.5" fill="#1f6db5"/>
<circle cx="151.9" cy="408.9" r="4.7" fill="#1f6db5"/>
<circle cx="70.6" cy="415.9" r="2.7" fill="#1f6db5"/>
<circle cx="48.4" cy="428.4" r="1.9" fill="#1f6db5"/>
<circle cx="104.6" cy="427.4" r="4.2" fill="#ff0000"/>
<circle cx="151.2" cy="442.6" r="5.2" fill="#1f6db5"/>
<circle cx="132.1" cy="474.0" r="5.9" fill="#1f6db5"/>
<circle cx="79.9" cy="486.2" r="3.9" fill="#1f6db5"/>
<circle cx="115.6" cy="511.6" r="5.6" fill="#1f6db5"/>
<circle cx="196.1" cy="479.2" r="6.1" fill="#1f6db5"/>
<circle cx="171.9" cy="502.4" r="6.0" fill="#1f6db5"/>
<circle cx="196.8" cy="419.2" r="4.0" fill="#1f6db5"/>
<circle cx="215.4" cy="426.9" r="2.2" fill="#1f6db5"/>
<circle cx="210.1" cy="372.9" r="3.0" fill="#1f6db5"/>
<circle cx="226.4" cy="332.7" r="1.2" fill="#1f6db5"/>
<circle cx="267.1" cy="314.7" r="1.2" fill="#1f6db5"/>
<circle cx="266.6" cy="359.6" r="1.2" fill="#1f6db5"/>
<circle cx="300.0" cy="328.4" r="1.2" fill="#1f6db5"/>
<circle cx="340.8" cy="376.0" r="1.6" fill="#1f6db5"/>
<circle cx="234.4" cy="402.0" r="1.2" fill="#1f6db5"/>
<circle cx="291.8" cy="402.0" r="2.7" fill="#ff0000"/>
<circle cx="350.1" cy="406.7" r="2.3" fill="#1f6db5"/>
<circle cx="345.3" cy="424.4" r="3.5" fill="#1f6db5"/>
<circle cx="334.1" cy="442.6" r="1.6" fill="#1f6db5"/>
<circle cx="323.3" cy="473.0" r="1.2" fill="#1f6db5"/>
<circle cx="257.8" cy="458.7" r="2.5" fill="#1f6db5"/>
<circle cx="227.3" cy="470.1" r="4.1" fill="#ffff00"/>
<circle cx="252.1" cy="514.9" r="4.0" fill="#ffff00"/>
<circle cx="296.9" cy="494.9" r="4.1" fill="#ffff00"/>
<g font-size="8" fill="#111" stroke="#111" stroke-width="0.15" text-anchor="middle">
<text x="89.5" y="346.4">High TFA</text>
<text x="144.0" y="326.7">High total</text>
<text x="143.7" y="335.7">area</text>
<text x="171.4" y="381.8">High SFA</text>
<text x="104.4" y="383.5">Man</text>
<text x="157.7" y="400.3">Non-functioning</text>
<text x="71.7" y="411.4">Nodules 1</text>
<text x="47.8" y="437.9">Large intestine</text>
<text x="47.4" y="447.3">location</text>
<text x="107.0" y="440.1" font-weight="bold">Survival</text>
<text x="151.2" y="454.8">Not other</text>
<text x="151.0" y="463.6">tumors</text>
<text x="132.0" y="486.7">Not respiratory</text>
<text x="131.7" y="496.3">diseases</text>
<text x="78.0" y="497.4">Not metastasis</text>
<text x="115.8" y="525.3">Not auricular</text>
<text x="116.2" y="535.0">fibrillation/</text>
<text x="115.5" y="544.0">Cardiopathy</text>
<text x="195.1" y="492.7">Not sunitinib</text>
<text x="174.3" y="515.1">Not everolimus</text>
<text x="198.3" y="413.9">ECOG 0</text>
<text x="217.7" y="437.9">ECOG 1</text>
<text x="210.0" y="358.3">Pancreatic</text>
<text x="209.7" y="367.6">location</text>
<text x="226.9" y="328.7">Sunitinib</text>
<text x="267.5" y="311.8">Insulinoma</text>
<text x="267.5" y="367.9">Everolimus</text>
<text x="302.2" y="324.2">ECOG 3</text>
<text x="340.5" y="352.4">Auricular</text>
<text x="341.5" y="362.3">fibrillation/</text>
<text x="343.6" y="371.8">Cardiopathy</text>
<text x="233.6" y="390.0">Respiratory</text>
<text x="233.6" y="399.3">diseases</text>
<text x="291.9" y="412.7" font-weight="bold">Mortality</text>
<text x="351.0" y="401.5">Nodules 0</text>
<text x="346.5" y="434.9">Woman</text>
<text x="333.5" y="451.3">Other tumors</text>
<text x="323.6" y="481.8">ECOG 2</text>
<text x="258.0" y="454.1">Metastasis</text>
<text x="229.0" y="463.8">Low SFA</text>
<text x="254.3" y="525.8">Low TFA</text>
<text x="299.0" y="506.1">Low total</text>
<text x="299.0" y="515.6">area</text>
</g>
</svg>
</body></html>
